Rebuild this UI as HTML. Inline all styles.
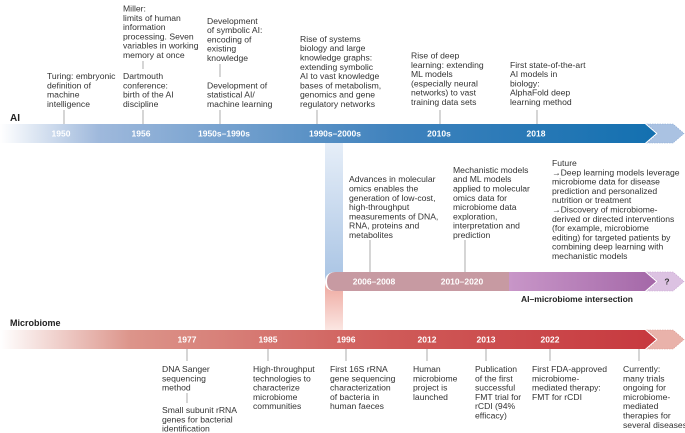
<!DOCTYPE html>
<html><head><meta charset="utf-8">
<style>
html,body{margin:0;padding:0;background:#fff;}
svg{display:block;font-family:"Liberation Sans",sans-serif;}
.t{font-size:8.6px;fill:#333;}
.y{font-size:8.5px;font-weight:bold;fill:#fff;text-anchor:middle;}
.tk{stroke:#888;stroke-width:0.7;}
</style></head>
<body>
<svg id="c" width="685" height="433" viewBox="0 0 685 433" xmlns="http://www.w3.org/2000/svg">
<defs>
<linearGradient id="gAI" x1="0" x2="1" y1="0" y2="0">
<stop offset="0" stop-color="#ffffff"/><stop offset="0.15" stop-color="#9fb9dc"/><stop offset="0.6" stop-color="#3f82bd"/><stop offset="1" stop-color="#1370b0"/></linearGradient>
<linearGradient id="gMB" x1="0" x2="1" y1="0" y2="0">
<stop offset="0" stop-color="#ffffff"/><stop offset="0.2" stop-color="#dc948a"/><stop offset="0.6" stop-color="#cf5a58"/><stop offset="1" stop-color="#c7393f"/></linearGradient>
<linearGradient id="gPU" x1="0" x2="1" y1="0" y2="0">
<stop offset="0" stop-color="#c896c8"/><stop offset="1" stop-color="#a468a8"/></linearGradient>
<linearGradient id="gBV" x1="0" x2="0" y1="0" y2="1">
<stop offset="0" stop-color="#e6eef8"/><stop offset="1" stop-color="#a9c4e4"/></linearGradient>
<linearGradient id="gPV" x1="0" x2="0" y1="0" y2="1">
<stop offset="0" stop-color="#eea79e"/><stop offset="1" stop-color="#fbe6e2"/></linearGradient>
</defs>

<path d="M325 143 H343 V272 H336 Q325 272 325 282 Z" fill="url(#gBV)"/>
<path d="M325 330 H343 V291 H336 Q325 291 325 282 Z" fill="url(#gPV)"/>

<text x="10" y="121" font-size="10" font-weight="bold" fill="#222">AI</text>
<path d="M0 124 H645 L656 133.5 L645 143 H0 Z" fill="url(#gAI)"/>
<path d="M647 124 H673 L684 133.5 L673 143 H647 L658 133.5 Z" fill="#aac2e2" stroke="#8aaad6" stroke-width="0.6" stroke-dasharray="1.5 1"/>

<path d="M336 272 H509 V291 H336 Q327 291 327 281.5 Q327 272 336 272 Z" fill="#c79aa2"/>
<path d="M509 272 H645 L656 281.5 L645 291 H509 Z" fill="url(#gPU)"/>
<path d="M647 272 H673 L684 281.5 L673 291 H647 L658 281.5 Z" fill="#dcc2e2" stroke="#c8a4d0" stroke-width="0.6" stroke-dasharray="1.5 1"/>
<text x="667" y="284.5" class="y" style="fill:#333">?</text>
<text x="633" y="302" font-size="8.5" font-weight="bold" fill="#222" text-anchor="end">AI–microbiome intersection</text>

<text x="10" y="326" font-size="9" font-weight="bold" fill="#222">Microbiome</text>
<path d="M0 330 H645 L656 339.5 L645 349 H0 Z" fill="url(#gMB)"/>
<path d="M647 330 H673 L684 339.5 L673 349 H647 L658 339.5 Z" fill="#e9b2aa" stroke="#dc9890" stroke-width="0.6" stroke-dasharray="1.5 1"/>

<g id="layer"></g>
</svg>
<script>
const LH = 9.3;
// AI timeline
const aiYears = ["1950","1956","1950s–1990s","1990s–2000s","2010s","2018"];
const aiYearX = [61,141,224,335,439,536];
const aiEvents = [
 {x:47, bottom:104, lines:["Turing: embryonic","definition of","machine","intelligence"]},
 {x:123, bottom:55, lines:["Miller:","limits of human","information","processing. Seven","variables in working","memory at once"]},
 {x:123, bottom:104, lines:["Dartmouth","conference:","birth of the AI","discipline"]},
 {x:207, bottom:58, lines:["Development","of symbolic AI:","encoding of","existing","knowledge"]},
 {x:207, bottom:104, lines:["Development of","statistical AI/","machine learning"]},
 {x:300, bottom:104, lines:["Rise of systems","biology and large","knowledge graphs:","extending symbolic","AI to vast knowledge","bases of metabolism,","genomics and gene","regulatory networks"]},
 {x:411, bottom:102, lines:["Rise of deep","learning: extending","ML models","(especially neural","networks) to vast","training data sets"]},
 {x:510, bottom:102, lines:["First state-of-the-art","AI models in","biology:","AlphaFold deep","learning method"]}
];
const ixYears = ["2006–2008","2010–2020"];
const ixYearX = [374,462];
const ixEvents = [
 {x:349, bottom:235, lines:["Advances in molecular","omics enables the","generation of low-cost,","high-throughput","measurements of DNA,","RNA, proteins and","metabolites"]},
 {x:453, bottom:235, lines:["Mechanistic models","and ML models","applied to molecular","omics data for","microbiome data","exploration,","interpretation and","prediction"]},
 {x:552, bottom:256, lines:["Future","→Deep learning models leverage","microbiome data for disease","prediction and personalized","nutrition or treatment","→Discovery of microbiome-","derived or directed interventions","(for example, microbiome","editing) for targeted patients by","combining deep learning with","mechanistic models"]}
];
const mbYears = ["1977","1985","1996","2012","2013","2022"];
const mbYearX = [187,268,346,427,486,550];
const mbEvents = [
 {x:162, top:369, lines:["DNA Sanger","sequencing","method"]},
 {x:162, top:410, lines:["Small subunit rRNA","genes for bacterial","identification"]},
 {x:253, top:369, lines:["High-throughput","technologies to","characterize","microbiome","communities"]},
 {x:330, top:369, lines:["First 16S rRNA","gene sequencing","characterization","of bacteria in","human faeces"]},
 {x:413, top:369, lines:["Human","microbiome","project is","launched"]},
 {x:475, top:369, lines:["Publication","of the first","successful","FMT trial for","rCDI (94%","efficacy)"]},
 {x:532, top:369, lines:["First FDA-approved","microbiome-","mediated therapy:","FMT for rCDI"]},
 {x:623, top:369, lines:["Currently:","many trials","ongoing for","microbiome-","mediated","therapies for","several diseases"]}
];
const NS="http://www.w3.org/2000/svg";
const layer=document.getElementById('layer');
function mk(tag,attrs){const e=document.createElementNS(NS,tag);for(const k in attrs)e.setAttribute(k,attrs[k]);layer.appendChild(e);return e;}
function years(arr,xs,y,nm){
 arr.forEach((s,i)=>{const t=mk('text',{x:xs[i],y:y,class:'y'});t.textContent=s;
  
  });
}
years(aiYears,aiYearX,136.5,'ai');
years(ixYears,ixYearX,284.5,'intersection');
years(mbYears,mbYearX,342.5,'microbiome');
function block(ev,nm){
 const top = ev.top!==undefined ? ev.top : ev.bottom-(ev.lines.length-1)*LH;
 const t=mk('text',{x:ev.x,y:top+3,class:'t'});
 
 
 ev.lines.forEach((l,i)=>{const s=document.createElementNS(NS,'tspan');s.setAttribute('x',ev.x);s.setAttribute('y',top+3+i*LH);s.textContent=l;t.appendChild(s);});
}
function tick(x,y1,y2,nm){const l=mk('line',{x1:x,x2:x,y1:y1,y2:y2,class:'tk'});
 
 }
aiEvents.forEach(e=>block(e,'ai'));
ixEvents.forEach(e=>block(e,'intersection'));
mbEvents.forEach(e=>block(e,'microbiome'));
[64,143,220,317,440,537].forEach(x=>tick(x,110,124,'ai'));
tick(143,61,69,'ai-miller');
tick(220,64,77,'ai-symbolic');
[370,465].forEach(x=>tick(x,240,272,'intersection'));
[187,268,346,427,486,550,639].forEach(x=>tick(x,349,361,'microbiome'));
tick(187,393,403,'microbiome-sanger');
</script>
</body></html>
